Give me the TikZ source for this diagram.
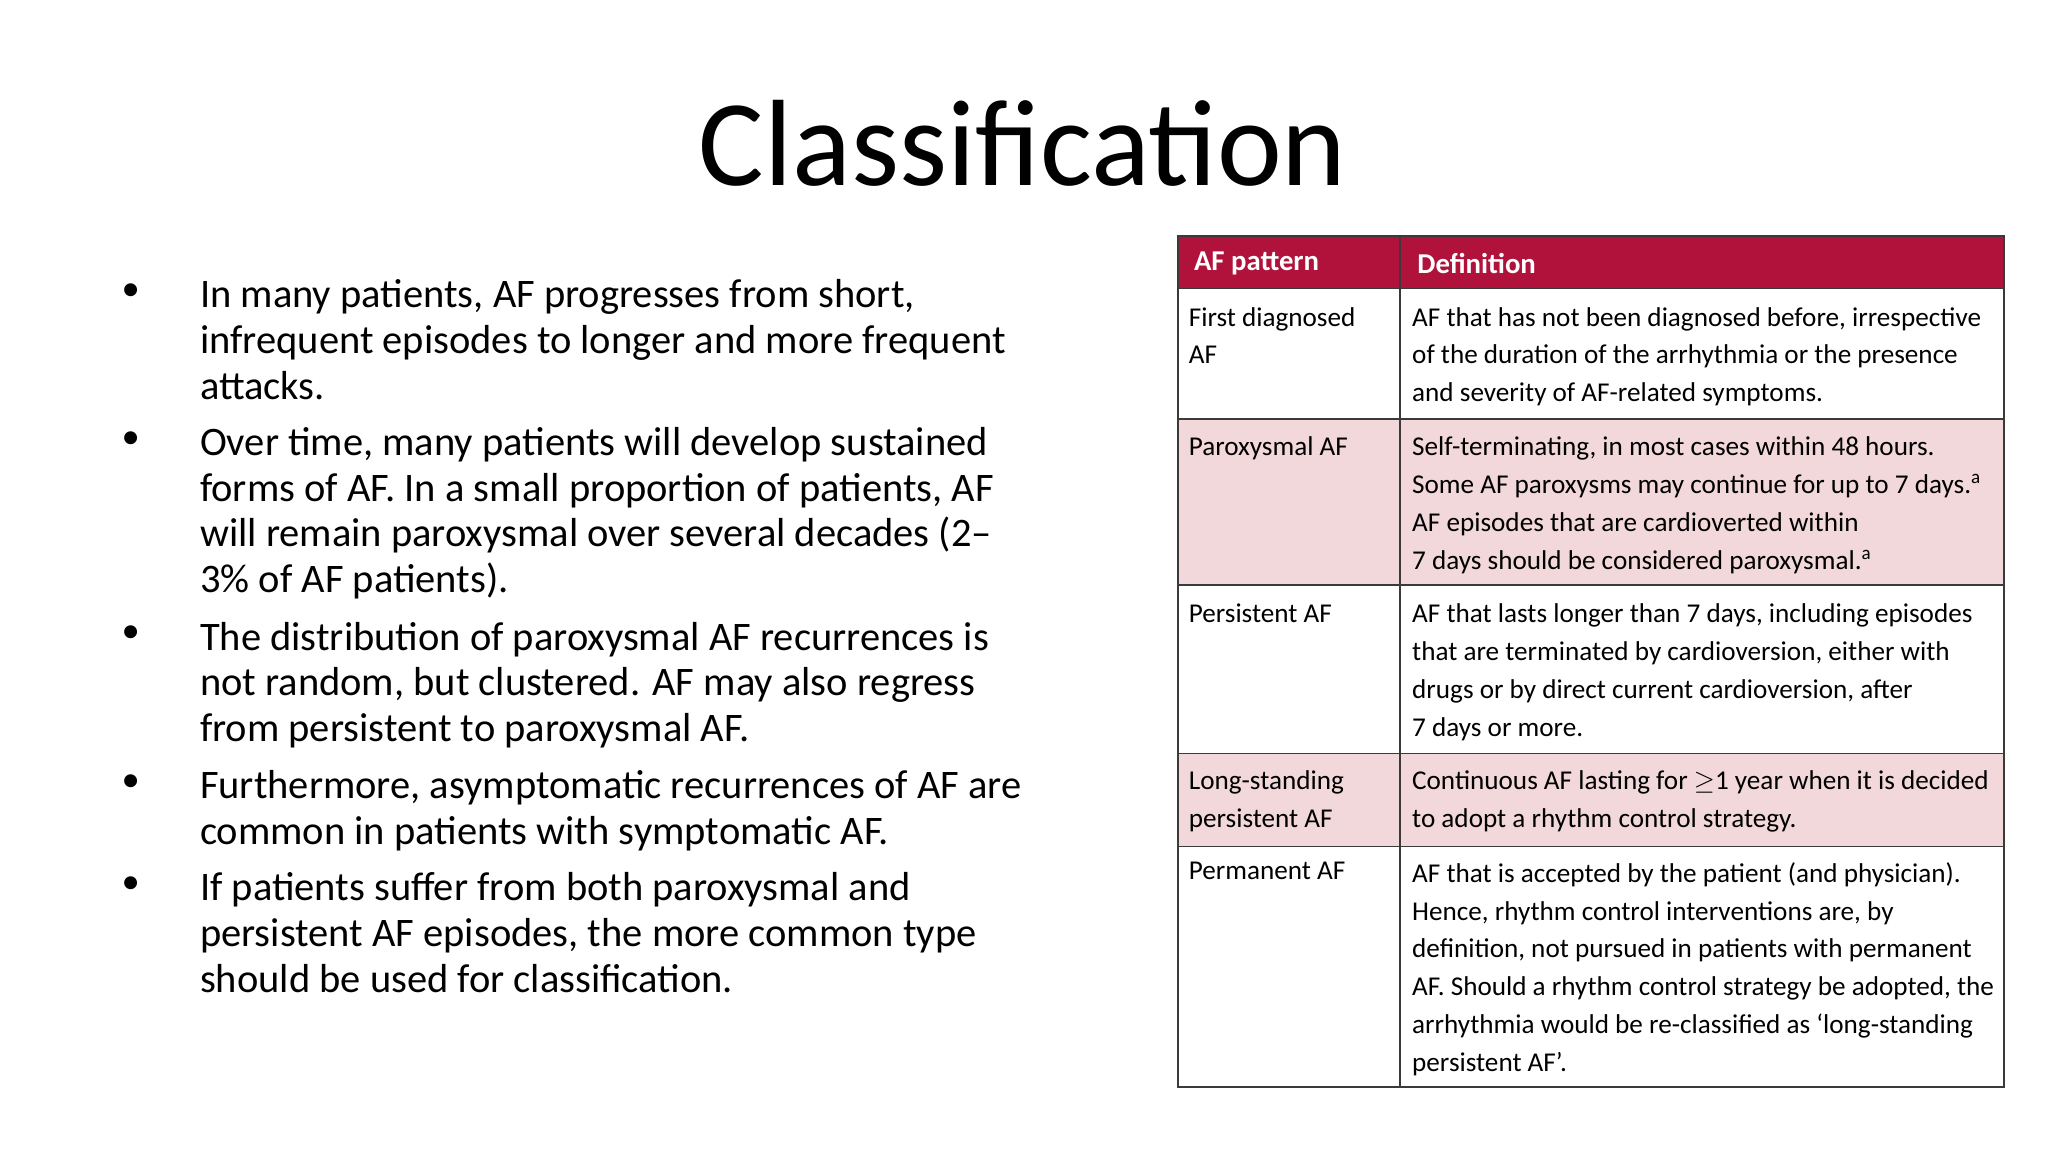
\documentclass[tikz,border=0pt]{standalone}
\usepackage{fontspec}
\setmainfont{Carlito}
\definecolor{hdred}{HTML}{B0123B}
\definecolor{rowpink}{HTML}{F2D8DA}
\definecolor{gridgray}{HTML}{3A3A3A}
\tikzset{
  bullettext/.style={anchor=north west, align=left, inner sep=0pt,
    font=\fontsize{31}{35}\selectfont},
  bulletdot/.style={anchor=north west, inner sep=0pt, font=\fontsize{28}{35}\selectfont},
  cell/.style={anchor=north west, align=left, inner sep=0pt,
    font=\fontsize{20.8}{29}\selectfont},
  headcell/.style={anchor=west, inner sep=0pt, text=white,
    font=\fontsize{22}{25}\selectfont\bfseries},
}
\begin{document}
\begin{tikzpicture}[x=1pt,y=-1pt]
\useasboundingbox (0,0) rectangle (1568,882);
\fill[white] (0,0) rectangle (1568,882);

\node (title) at (783,110) {\fontsize{94}{100}\selectfont Classification};

% bullets
\node[bulletdot] (d1) at (93,217) {•};
\node[bullettext] (b1) at (153,214) {In many patients, AF progresses from short,\\infrequent episodes to longer and more frequent\\attacks.};
\node[bulletdot] (d2) at (93,330) {•};
\node[bullettext] (b2) at (153,327) {Over time, many patients will develop sustained\\forms of AF. In a small proportion of patients, AF\\will remain paroxysmal over several decades (2–\\3\% of AF patients).};
\node[bulletdot] (d3) at (93,479) {•};
\node[bullettext] (b3) at (153,476) {The distribution of paroxysmal AF recurrences is\\not random, but clustered. AF may also regress\\from persistent to paroxysmal AF.};
\node[bulletdot] (d4) at (93,593) {•};
\node[bullettext] (b4) at (153,590) {Furthermore, asymptomatic recurrences of AF are\\common in patients with symptomatic AF.};
\node[bulletdot] (d5) at (93,671) {•};
\node[bullettext] (b5) at (153,668) {If patients suffer from both paroxysmal and\\persistent AF episodes, the more common type\\should be used for classification.};

% table
\fill[hdred] (902,181) rectangle (1534,221);
\fill[rowpink] (902,321) rectangle (1534,448);
\fill[rowpink] (902,577) rectangle (1534,648);
\draw[gridgray, line width=1.5pt] (902,181) rectangle (1534,832);
\foreach \y in {221,321,448,577,648}
  \draw[gridgray, line width=1.2pt] (902,\y) -- (1534,\y);
\draw[gridgray, line width=1.2pt] (1072,181) -- (1072,832);

\node[headcell] (h1) at (914,202) {AF pattern};
\node[headcell] (h2) at (1085,202) {Definition};

\node[cell] (p1) at (910,235) {First diagnosed\\AF};
\node[cell] (q1) at (1081,235) {AF that has not been diagnosed before, irrespective\\of the duration of the arrhythmia or the presence\\and severity of AF-related symptoms.};
\node[cell] (p2) at (910,334) {Paroxysmal AF};
\node[cell] (q2) at (1081,334) {Self-terminating, in most cases within 48 hours.\\Some AF paroxysms may continue for up to 7 days.$^{\mathrm a}$\\AF episodes that are cardioverted within\\7 days should be considered paroxysmal.$^{\mathrm a}$};
\node[cell] (p3) at (910,462) {Persistent AF};
\node[cell] (q3) at (1081,462) {AF that lasts longer than 7 days, including episodes\\that are terminated by cardioversion, either with\\drugs or by direct current cardioversion, after\\7 days or more.};
\node[cell] (p4) at (910,590) {Long-standing\\persistent AF};
\node[cell] (q4) at (1081,590) {Continuous AF lasting for $\geq$1 year when it is decided\\to adopt a rhythm control strategy.};
\node[cell] (p5) at (910,660) {Permanent AF};
\node[cell] (q5) at (1081,660) {AF that is accepted by the patient (and physician).\\Hence, rhythm control interventions are, by\\definition, not pursued in patients with permanent\\AF. Should a rhythm control strategy be adopted, the\\arrhythmia would be re-classified as ‘long-standing\\persistent AF’.};
\end{tikzpicture}
\end{document}
